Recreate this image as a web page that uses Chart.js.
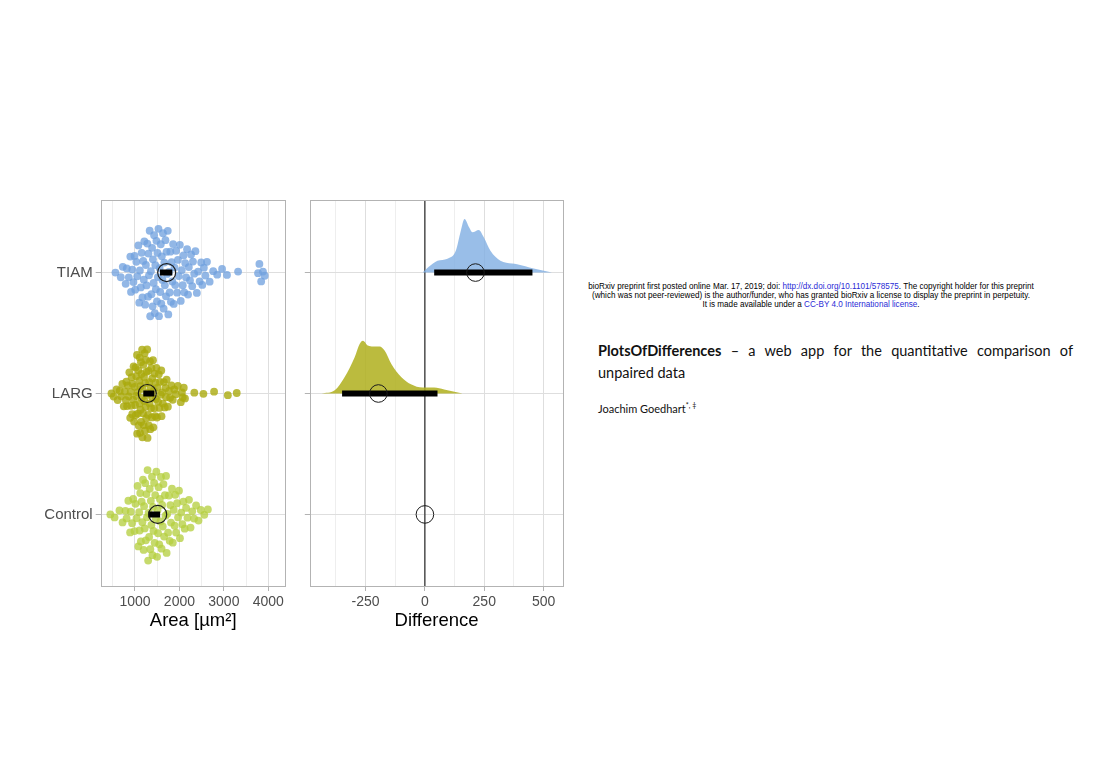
<!DOCTYPE html>
<html>
<head>
<meta charset="utf-8">
<title>PlotsOfDifferences</title>
<script src="https://cdn.jsdelivr.net/npm/chart.js@4.4.1/dist/chart.umd.min.js"></script>
<style>
  html, body { margin: 0; padding: 0; background: #fff; }
  body { width: 1106px; height: 782px; position: relative; overflow: hidden; }
  canvas { position: absolute; }
  #area-chart { left: 0; top: 150px; }
  #diff-chart { left: 300px; top: 150px; }
  .header {
    position: absolute; left: 581px; top: 283px; width: 460px;
    text-align: center; white-space: nowrap;
    font-family: 'Liberation Sans', Arial, sans-serif; font-size: 8.15px; line-height: 8.8px; color: #000;
  }
  .header .link { color: #2b2bd6; }
  .title {
    position: absolute; left: 598px; top: 340px; width: 475px;
    font-family: Lato, sans-serif; font-size: 14.5px; line-height: 22px; color: #111;
  }
  .title .first { text-align: justify; text-align-last: justify; white-space: nowrap; }
  .author { position: absolute; left: 598px; top: 401px; font-family: Lato, sans-serif; font-size: 11px; color: #111; }
  .author sup { font-size: 7px; }
</style>
</head>
<body>
<canvas id="area-chart" width="300" height="500"></canvas>
<canvas id="diff-chart" width="280" height="500"></canvas>

<div class="header">
  bioRxiv preprint first posted online Mar. 17, 2019; doi: <span class="link">http://dx.doi.org/10.1101/578575</span>. The copyright holder for this preprint<br>
  (which was not peer-reviewed) is the author/funder, who has granted bioRxiv a license to display the preprint in perpetuity.<br>
  It is made available under a <span class="link">CC-BY 4.0 International license</span>.
</div>
<div class="title">
  <div class="first"><b>PlotsOfDifferences</b> – a web app for the quantitative comparison of</div>
  <div>unpaired data</div>
</div>
<div class="author">Joachim Goedhart<sup>*, ‡</sup></div>

<script>
const groups = ['Control', 'LARG', 'TIAM']

// cell areas in µm²
const controlArea = [
  445, 540, 650, 720, 785, 810, 850, 890, 905, 935, 960, 988,
  1010, 1035, 1058, 1075, 1094, 1104, 1118, 1133, 1150, 1166, 1180, 1195,
  1205, 1218, 1230, 1244, 1258, 1270, 1283, 1296, 1306, 1318, 1331, 1345, 1357, 1369, 1382, 1394,
  1405, 1416, 1429, 1441, 1455, 1468, 1480, 1497, 1508, 1519, 1532, 1546, 1560, 1572, 1585, 1598,
  1610, 1625, 1640, 1655, 1672, 1688, 1699, 1712, 1728, 1745, 1764, 1780, 1796,
  1810, 1832, 1851, 1870, 1892, 1905, 1924, 1948, 1969, 1990,
  2012, 2040, 2066, 2090, 2118, 2150, 2182, 2215, 2250, 2288, 2330, 2375, 2430, 2480, 2560, 2640
]
const largArea = [
  470, 520, 585, 610, 655, 690, 715, 748, 772, 795,
  805, 822, 840, 858, 873, 892, 903, 914, 925, 937, 946, 958, 969, 980, 993,
  1002, 1011, 1017, 1028, 1033, 1045, 1049, 1060, 1064, 1077, 1083, 1096,
  1101, 1107, 1114, 1120, 1126, 1133, 1139, 1146, 1152, 1160, 1167, 1173, 1181, 1188, 1196,
  1203, 1209, 1216, 1224, 1230, 1238, 1245, 1252, 1259, 1267, 1274, 1282, 1290, 1297,
  1304, 1311, 1320, 1328, 1337, 1345, 1353, 1362, 1370, 1379, 1388, 1396,
  1405, 1414, 1424, 1433, 1442, 1453, 1462, 1472, 1483, 1494,
  1508, 1521, 1535, 1550, 1563, 1578, 1592, 1597, 1610, 1628, 1650, 1671, 1690, 1698,
  1712, 1740, 1765, 1790, 1820, 1850, 1885, 1920, 1965,
  2030, 2055, 2075, 2098, 2125, 2335, 2540, 2780, 3090, 3290
]
const tiamArea = [
  560, 680, 725, 790, 815, 860, 895, 910, 940, 965, 990,
  1005, 1030, 1050, 1075, 1095, 1110, 1130, 1150, 1168, 1185, 1198,
  1210, 1228, 1245, 1260, 1278, 1294, 1302, 1315, 1330, 1342, 1358, 1370, 1385, 1396,
  1404, 1418, 1430, 1445, 1457, 1470, 1482, 1495, 1506, 1515, 1528, 1540, 1555, 1568, 1580, 1592,
  1604, 1618, 1630, 1645, 1660, 1672, 1685, 1697, 1710, 1722, 1738, 1750, 1765, 1780, 1795,
  1808, 1825, 1840, 1858, 1872, 1890, 1905, 1925, 1948, 1966, 1985,
  2010, 2030, 2052, 2075, 2092, 2108, 2130, 2150, 2172, 2194, 2212, 2238, 2262, 2288,
  2305, 2332, 2360, 2392, 2420, 2455, 2490, 2515, 2550, 2585, 2620, 2680,
  2760, 2850, 2960, 3070, 3320, 3770, 3800, 3840, 3880, 3920
]

// median and its confidence interval per group (left panel)
const areaMedian = [1511, 1277, 1713]
const areaCiLow = [1300, 1187, 1563]
const areaCiHigh = [1565, 1435, 1840]

// difference with Control: median and 95% CI (right panel)
const diffMedian = [0, -196, 213]
const diffCiLow = [null, -349, 39]
const diffCiHigh = [null, 53, 453]

// bootstrap distributions of the difference, height as a fraction of the row spacing
const largDensX = [-435, -380, -338, -296, -275, -261, -240, -219, -191, -170, -142, -100, -59, -10, 39, 81, 158]
const largDensH = [0, 0.027, 0.136, 0.3, 0.41, 0.437, 0.396, 0.388, 0.388, 0.355, 0.246, 0.136, 0.076, 0.049, 0.049, 0.033, 0]
const tiamDensX = [-10, 15, 53, 95, 130, 151, 167, 186, 200, 227, 248, 276, 318, 367, 388, 458, 535]
const tiamDensH = [0, 0.045, 0.098, 0.115, 0.18, 0.344, 0.443, 0.374, 0.333, 0.352, 0.292, 0.18, 0.098, 0.074, 0.068, 0.033, 0]

const areaTicks = [500, 1000, 1500, 2000, 2500, 3000, 3500, 4000]
const diffTicks = [-375, -250, -125, 0, 125, 250, 375, 500]
const rowTicks = [1, 2, 3]

const dotColors = ['rgba(180,206,62,0.76)', 'rgba(170,170,14,0.8)', 'rgba(112,160,222,0.76)']

Chart.defaults.font.family = "'Liberation Sans', Arial, sans-serif"

// quasirandom layout (van der Corput offsets scaled by density), like ggbeeswarm
function radicalInverse(n) {
  let v = 0
  let denom = 1
  while (n > 0) {
    denom *= 2
    v += (n % 2) / denom
    n = Math.floor(n / 2)
  }
  return v
}

function quantile(sorted, p) {
  const h = (sorted.length - 1) * p
  const lo = Math.floor(h)
  const hi = Math.min(lo + 1, sorted.length - 1)
  return sorted[lo] + (h - lo) * (sorted[hi] - sorted[lo])
}

function bandwidth(values) {
  const n = values.length
  const mean = values.reduce((a, b) => a + b, 0) / n
  const sd = Math.sqrt(values.reduce((a, v) => a + (v - mean) ** 2, 0) / (n - 1))
  const sorted = [...values].sort((a, b) => a - b)
  const iqr = quantile(sorted, 0.75) - quantile(sorted, 0.25)
  return 0.9 * Math.min(sd, iqr / 1.34) * Math.pow(n, -0.2)
}

function quasirandomOffsets(values, width, adjust) {
  const bw = bandwidth(values) * adjust
  const density = values.map(x => values.reduce((s, v) => s + Math.exp(-0.5 * ((x - v) / bw) ** 2), 0))
  const maxDensity = Math.max(...density)
  const order = values.map((v, i) => i).sort((a, b) => values[a] - values[b])
  const offsets = []
  order.forEach((idx, rank) => {
    offsets[idx] = (radicalInverse(rank + 1) - 0.5) * 2 * width * density[idx] / maxDensity
  })
  return offsets
}

const panelBorder = {
  id: 'panelBorder',
  afterDatasetsDraw(chart) {
    const { ctx, chartArea: a } = chart
    ctx.save()
    ctx.strokeStyle = '#b3b3b3'
    ctx.lineWidth = 1
    ctx.strokeRect(Math.round(a.left) + 0.5, Math.round(a.top) + 0.5, Math.round(a.right - a.left) - 1, Math.round(a.bottom - a.top) - 1)
    ctx.restore()
  }
}

function xAxis(min, max, ticks, isMajor, title) {
  return {
    type: 'linear',
    min: min,
    max: max,
    afterBuildTicks: scale => { scale.ticks = ticks.map(v => ({ value: v })) },
    afterFit: scale => { scale.height = 45 },
    ticks: {
      autoSkip: false,
      maxRotation: 0,
      padding: 3,
      color: '#4d4d4d',
      font: { size: 14 },
      callback: v => isMajor(v) ? String(v) : ''
    },
    grid: {
      color: ctx => isMajor(ctx.tick.value) ? '#dedede' : '#eeeeee',
      tickColor: ctx => isMajor(ctx.tick.value) ? '#b3b3b3' : 'rgba(0,0,0,0)',
      tickLength: 4
    },
    border: { display: false },
    title: { display: true, text: title, color: '#000', font: { size: 18.5 }, padding: { top: 0, bottom: 0 } }
  }
}

function yAxis(width, showLabels) {
  return {
    type: 'linear',
    min: 0.4,
    max: 3.6,
    afterBuildTicks: scale => { scale.ticks = rowTicks.map(v => ({ value: v })) },
    afterFit: scale => { scale.width = width },
    ticks: {
      padding: 3,
      color: '#4d4d4d',
      font: { size: 15 },
      callback: v => showLabels ? groups[v - 1] : ''
    },
    grid: { color: '#dedede', tickColor: '#b3b3b3', tickLength: 5 },
    border: { display: false }
  }
}

// left panel: raw data
const areaGroups = [controlArea, largArea, tiamArea]
const dotSets = areaGroups.map((values, g) => {
  const offsets = quasirandomOffsets(values, 0.4, 0.5)
  return {
    type: 'scatter',
    data: values.map((v, i) => ({ x: v, y: g + 1 + offsets[i] })),
    pointRadius: 3.9,
    pointHoverRadius: 3.9,
    backgroundColor: dotColors[g],
    borderWidth: 0
  }
})

const areaCiSets = groups.map((name, g) => ({
  type: 'line',
  data: [{ x: areaCiLow[g], y: g + 1 }, { x: areaCiHigh[g], y: g + 1 }],
  borderColor: '#000',
  borderWidth: 6,
  borderCapStyle: 'butt',
  pointRadius: 0
}))

const areaMedianSet = {
  type: 'scatter',
  data: areaMedian.map((v, g) => ({ x: v, y: g + 1 })),
  pointRadius: 9,
  pointHoverRadius: 9,
  backgroundColor: 'rgba(0,0,0,0)',
  borderColor: '#1a1a1a',
  borderWidth: 1.2
}

new Chart(document.getElementById('area-chart'), {
  type: 'scatter',
  data: { datasets: [areaMedianSet, ...areaCiSets, ...dotSets.slice().reverse()] },
  options: {
    responsive: false,
    animation: false,
    events: [],
    layout: { padding: { top: 50, right: 14.3, bottom: 18, left: 0 } },
    plugins: { legend: { display: false }, tooltip: { enabled: false } },
    scales: {
      x: xAxis(228, 4392, areaTicks, v => v % 1000 === 0, 'Area [µm²]'),
      y: yAxis(100.7, true)
    }
  },
  plugins: [panelBorder]
})

// right panel: differences with Control
const densitySets = [
  { xs: largDensX, hs: largDensH, row: 2, color: 'rgba(176,176,30,0.86)' },
  { xs: tiamDensX, hs: tiamDensH, row: 3, color: 'rgba(128,174,226,0.8)' }
].map(d => ({
  type: 'line',
  data: d.xs.map((x, i) => ({ x: x, y: d.row + d.hs[i] })),
  fill: { value: d.row },
  backgroundColor: d.color,
  borderWidth: 0,
  pointRadius: 0,
  tension: 0.4,
  cubicInterpolationMode: 'monotone'
}))

const diffCiSets = groups
  .map((name, g) => ({ g: g }))
  .filter(r => diffCiLow[r.g] !== null)
  .map(r => ({
    type: 'line',
    data: [{ x: diffCiLow[r.g], y: r.g + 1 }, { x: diffCiHigh[r.g], y: r.g + 1 }],
    borderColor: '#000',
    borderWidth: 6,
    borderCapStyle: 'butt',
    pointRadius: 0
  }))

const diffMedianSet = {
  type: 'scatter',
  data: diffMedian.map((v, g) => ({ x: v, y: g + 1 })),
  pointRadius: 8.8,
  pointHoverRadius: 8.8,
  backgroundColor: 'rgba(0,0,0,0)',
  borderColor: '#1a1a1a',
  borderWidth: 1
}

const zeroLine = {
  type: 'line',
  data: [{ x: 0, y: 0.4 }, { x: 0, y: 3.6 }],
  borderColor: '#000',
  borderWidth: 1,
  pointRadius: 0
}

new Chart(document.getElementById('diff-chart'), {
  type: 'scatter',
  data: { datasets: [diffMedianSet, ...diffCiSets, ...densitySets, zeroLine] },
  options: {
    responsive: false,
    animation: false,
    events: [],
    layout: { padding: { top: 50, right: 16.7, bottom: 18, left: 0 } },
    plugins: { legend: { display: false }, tooltip: { enabled: false } },
    scales: {
      x: xAxis(-485, 583, diffTicks, v => v % 250 === 0, 'Difference'),
      y: yAxis(8.3, false)
    }
  },
  plugins: [panelBorder]
})
</script>
</body>
</html>
